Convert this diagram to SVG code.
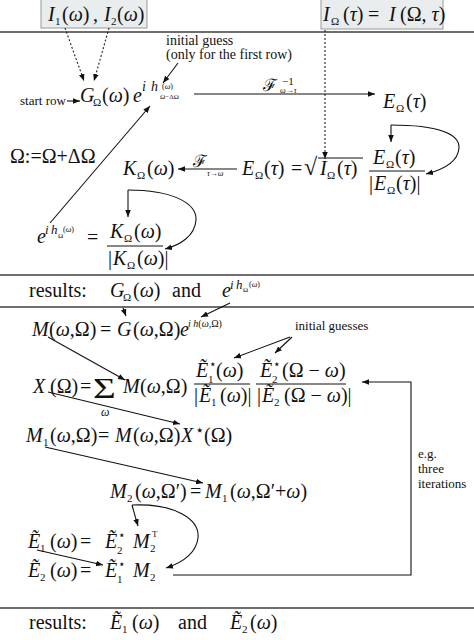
<svg xmlns="http://www.w3.org/2000/svg" width="474" height="640" viewBox="0 0 474 640">
<defs>
<marker id="ah" viewBox="0 0 10 10" refX="10" refY="5" markerWidth="7" markerHeight="7" markerUnits="userSpaceOnUse" orient="auto"><path d="M0,1 L10,5 L0,9 z" fill="#111"/></marker>
<style>
.m{font-family:"Liberation Serif","DejaVu Serif",serif;font-size:20px;fill:#111}
.i{font-style:italic}
.s{font-size:11px}
.ss{font-size:8px}
.st{font-size:12px}
.lbl{font-family:"Liberation Serif","DejaVu Serif",serif;font-size:13px;fill:#111}
.sep{stroke:#6e6e6e;stroke-width:2}
.c{stroke:#111;stroke-width:1.1;fill:none}
.d{stroke:#222;stroke-width:1.1;stroke-dasharray:2 2;fill:none}
.box{fill:#e9eded;stroke:#9a9a9a;stroke-width:1}
.bar{stroke:#111;stroke-width:1}
</style>
</defs>
<rect width="474" height="640" fill="#fff"/>

<g id="separators">
<line class="sep" x1="0" y1="32" x2="474" y2="32"/>
<line class="sep" x1="0" y1="275" x2="474" y2="275"/>
<line class="sep" x1="0" y1="307" x2="474" y2="307"/>
<line class="sep" x1="0" y1="608" x2="474" y2="608"/>
</g>

<g id="box-I1I2">
<rect class="box" x="41" y="-1" width="106" height="29"/>
<text class="m" y="21"><tspan x="48" class="i">I</tspan><tspan x="55" y="25" class="s">1</tspan><tspan x="62" y="21">(</tspan><tspan class="i">ω</tspan><tspan>)</tspan><tspan x="93">,</tspan><tspan x="104" class="i">I</tspan><tspan x="111" y="25" class="s">2</tspan><tspan x="117" y="21">(</tspan><tspan class="i">ω</tspan><tspan>)</tspan></text>
</g>

<g id="box-IOmega">
<rect class="box" x="321" y="-1" width="122" height="30"/>
<text class="m" y="21"><tspan x="323" class="i">I</tspan><tspan x="331" y="25" class="s">Ω</tspan><tspan x="343" y="21">(</tspan><tspan class="i">τ</tspan><tspan>)</tspan><tspan x="368">=</tspan><tspan x="389" class="i">I</tspan><tspan x="400">(Ω, </tspan><tspan class="i">τ</tspan><tspan>)</tspan></text>
</g>

<g id="initial-guess">
<text class="lbl" x="166" y="45" style="font-size:14px">initial guess</text>
<text class="lbl" x="166" y="59" style="font-size:14px">(only for the first row)</text>
</g>

<g id="start-row">
<text class="lbl" x="20" y="105">start row</text>
</g>

<g id="G-row">
<text class="m" y="102"><tspan x="80" class="i">G</tspan><tspan x="93" y="106" class="s">Ω</tspan><tspan x="102" y="102">(</tspan><tspan class="i">ω</tspan><tspan>)</tspan><tspan x="133" class="i">e</tspan></text>
<text class="m i" style="font-size:14px" y="91"><tspan x="142">i</tspan><tspan x="151">h</tspan></text>
<text class="m ss" x="162" y="89">(<tspan class="i">ω</tspan>)</text>
<text class="m" style="font-size:7px" x="160" y="99">Ω−ΔΩ</text>
</g>

<g id="F-inv">
<text class="m" style="font-size:17px" x="263" y="91">ℱ</text>
<text class="m" style="font-size:11px" x="282" y="85">−1</text>
<text class="m i" style="font-size:8px" x="280" y="93">ω→τ</text>
</g>

<g id="E-tau">
<text class="m" y="108"><tspan x="383" class="i">E</tspan><tspan x="396" y="112" class="s">Ω</tspan><tspan x="406" y="108">(</tspan><tspan class="i">τ</tspan><tspan>)</tspan></text>
</g>

<g id="E-update">
<text class="m" y="175"><tspan x="242" class="i">E</tspan><tspan x="255" y="179" class="s">Ω</tspan><tspan x="264" y="175">(</tspan><tspan class="i">τ</tspan><tspan>)</tspan><tspan x="291">=</tspan><tspan x="304" style="font-size:24px">√</tspan><tspan x="320" class="i">I</tspan><tspan x="327" y="179" class="s">Ω</tspan><tspan x="337" y="175">(</tspan><tspan class="i">τ</tspan><tspan>)</tspan></text>
<line class="bar" x1="318" y1="158" x2="363" y2="158"/>
<text class="m" y="164"><tspan x="373" class="i">E</tspan><tspan x="386" y="168" class="s">Ω</tspan><tspan x="395" y="164">(</tspan><tspan class="i">τ</tspan><tspan>)</tspan></text>
<line class="bar" x1="369" y1="171" x2="425" y2="171"/>
<text class="m" y="190"><tspan x="369">|</tspan><tspan x="374" class="i">E</tspan><tspan x="387" y="194" class="s">Ω</tspan><tspan x="396" y="190">(</tspan><tspan class="i">τ</tspan><tspan>)|</tspan></text>
</g>

<g id="F-fwd">
<text class="m" style="font-size:17px" x="193" y="167">ℱ</text>
<text class="m i" style="font-size:8px" x="207" y="176">τ→ω</text>
</g>

<g id="K-row">
<text class="m" y="175"><tspan x="123" class="i">K</tspan><tspan x="137" y="179" class="s">Ω</tspan><tspan x="147" y="175">(</tspan><tspan class="i">ω</tspan><tspan>)</tspan></text>
</g>

<g id="Omega-step">
<text class="m" x="10" y="163">Ω:=Ω+ΔΩ</text>
</g>

<g id="phase-row">
<text class="m i" x="37" y="243">e</text>
<text class="m i" style="font-size:13px" y="234"><tspan x="45">i</tspan><tspan x="51">h</tspan></text>
<text class="m" style="font-size:7px" x="58" y="238">Ω</text>
<text class="m ss" x="63" y="232">(<tspan class="i">ω</tspan>)</text>
<text class="m" x="87" y="244">=</text>
<text class="m" y="238"><tspan x="110" class="i">K</tspan><tspan x="124" y="242" class="s">Ω</tspan><tspan x="134" y="238">(</tspan><tspan class="i">ω</tspan><tspan>)</tspan></text>
<line class="bar" x1="107" y1="246" x2="163" y2="246"/>
<text class="m" y="265"><tspan x="108">|</tspan><tspan x="113" class="i">K</tspan><tspan x="127" y="269" class="s">Ω</tspan><tspan x="137" y="265">(</tspan><tspan class="i">ω</tspan><tspan>)|</tspan></text>
</g>

<g id="results-1">
<text class="m" x="29" y="297">results:</text>
<text class="m" y="297"><tspan x="110" class="i">G</tspan><tspan x="123" y="301" class="s">Ω</tspan><tspan x="133" y="297">(</tspan><tspan class="i">ω</tspan><tspan>)</tspan></text>
<text class="m" x="172" y="297">and</text>
<text class="m i" x="222" y="297">e</text>
<text class="m i" style="font-size:13px" y="289"><tspan x="230">i</tspan><tspan x="236">h</tspan></text>
<text class="m" style="font-size:7px" x="243" y="292">Ω</text>
<text class="m ss" x="249" y="287">(<tspan class="i">ω</tspan>)</text>
</g>

<g id="M-row">
<text class="m" y="336"><tspan x="32" class="i">M</tspan><tspan x="49">(</tspan><tspan class="i">ω</tspan><tspan>,Ω)</tspan><tspan x="100">=</tspan><tspan x="117" class="i">G</tspan><tspan x="133">(</tspan><tspan class="i">ω</tspan><tspan>,Ω)</tspan><tspan x="180" class="i">e</tspan></text>
<text class="m" style="font-size:10px" y="327"><tspan x="188" class="i">i h</tspan><tspan>(</tspan><tspan class="i">ω</tspan><tspan>,Ω)</tspan></text>
</g>

<g id="initial-guesses">
<text class="lbl" x="295" y="330">initial guesses</text>
</g>

<g id="X-row">
<text class="m" y="393"><tspan x="33" class="i">X</tspan><tspan x="50">(Ω)</tspan><tspan x="80">=</tspan></text>
<text class="m" transform="translate(93,398) scale(1.35,1)" style="font-size:29px">Σ</text>
<text class="m i" style="font-size:12px" x="101" y="416">ω</text>
<text class="m" y="393"><tspan x="123" class="i">M</tspan><tspan x="140">(</tspan><tspan class="i">ω</tspan><tspan>,Ω)</tspan></text>
<text class="m" y="377"><tspan x="196" class="i">Ẽ</tspan><tspan x="209" y="368" class="st">⋆</tspan><tspan x="208" y="383" class="s">1</tspan><tspan x="216" y="377">(</tspan><tspan class="i">ω</tspan><tspan>)</tspan></text>
<line class="bar" x1="194" y1="384" x2="250" y2="384"/>
<text class="m" y="402"><tspan x="194">|</tspan><tspan x="199" class="i">Ẽ</tspan><tspan x="211" y="406" class="s">1</tspan><tspan x="220" y="402">(</tspan><tspan class="i">ω</tspan><tspan>)|</tspan></text>
<text class="m" y="377"><tspan x="260" class="i">Ẽ</tspan><tspan x="273" y="368" class="st">⋆</tspan><tspan x="272" y="383" class="s">2</tspan><tspan x="282" y="377">(Ω − </tspan><tspan class="i">ω</tspan><tspan>)</tspan></text>
<line class="bar" x1="256" y1="384" x2="346" y2="384"/>
<text class="m" y="402"><tspan x="257">|</tspan><tspan x="262" class="i">Ẽ</tspan><tspan x="274" y="406" class="s">2</tspan><tspan x="284" y="402">(Ω − </tspan><tspan class="i">ω</tspan><tspan>)|</tspan></text>
</g>

<g id="M1-row">
<text class="m" y="442"><tspan x="26" class="i">M</tspan><tspan x="43" y="446" class="s">1</tspan><tspan x="50" y="442">(</tspan><tspan class="i">ω</tspan><tspan>,Ω)</tspan><tspan x="98">=</tspan><tspan x="115" class="i">M</tspan><tspan x="133">(</tspan><tspan class="i">ω</tspan><tspan>,Ω)</tspan><tspan x="181" class="i">X</tspan><tspan x="195" y="435" style="font-size:15px">⋆</tspan><tspan x="204" y="442">(Ω)</tspan></text>
</g>

<g id="M2-row">
<text class="m" y="498"><tspan x="110" class="i">M</tspan><tspan x="127" y="502" class="s">2</tspan><tspan x="135" y="498">(</tspan><tspan class="i">ω</tspan><tspan>,Ω′)</tspan><tspan x="190">=</tspan><tspan x="205" class="i">M</tspan><tspan x="222" y="502" class="s">1</tspan><tspan x="230" y="498">(</tspan><tspan class="i">ω</tspan><tspan>,Ω′+</tspan><tspan class="i">ω</tspan><tspan>)</tspan></text>
</g>

<g id="E1-row">
<text class="m" y="548"><tspan x="28" class="i">Ẽ</tspan><tspan x="40" y="552" class="s">1</tspan><tspan x="50" y="548">(</tspan><tspan class="i">ω</tspan><tspan>)</tspan><tspan x="80">=</tspan><tspan x="105" class="i">Ẽ</tspan><tspan x="118" y="539" class="st">⋆</tspan><tspan x="117" y="554" class="s">2</tspan><tspan x="133" y="548" class="i">M</tspan><tspan x="150" y="552" class="s">2</tspan><tspan x="152" y="537" style="font-size:9px">T</tspan></text>
</g>

<g id="E2-row">
<text class="m" y="577"><tspan x="28" class="i">Ẽ</tspan><tspan x="40" y="581" class="s">2</tspan><tspan x="50" y="577">(</tspan><tspan class="i">ω</tspan><tspan>)</tspan><tspan x="80">=</tspan><tspan x="105" class="i">Ẽ</tspan><tspan x="118" y="568" class="st">⋆</tspan><tspan x="117" y="583" class="s">1</tspan><tspan x="133" y="577" class="i">M</tspan><tspan x="150" y="581" class="s">2</tspan></text>
</g>

<g id="iterations">
<text class="lbl" x="418" y="458">e.g.</text>
<text class="lbl" x="418" y="473">three</text>
<text class="lbl" x="418" y="488">iterations</text>
</g>

<g id="results-2">
<text class="m" x="29" y="629">results:</text>
<text class="m" y="629"><tspan x="110" class="i">Ẽ</tspan><tspan x="122" y="633" class="s">1</tspan><tspan x="132" y="629">(</tspan><tspan class="i">ω</tspan><tspan>)</tspan></text>
<text class="m" x="178" y="629">and</text>
<text class="m" y="629"><tspan x="230" class="i">Ẽ</tspan><tspan x="242" y="633" class="s">2</tspan><tspan x="250" y="629">(</tspan><tspan class="i">ω</tspan><tspan>)</tspan></text>
</g>

<g id="connectors">
<line class="d" x1="65" y1="28" x2="84" y2="81" marker-end="url(#ah)"/>
<line class="d" x1="109" y1="28" x2="94" y2="81" marker-end="url(#ah)"/>
<line class="d" x1="325" y1="30" x2="325" y2="159" marker-end="url(#ah)"/>
<line class="c" x1="178" y1="63" x2="163" y2="83" marker-end="url(#ah)"/>
<line class="c" x1="67" y1="101" x2="80" y2="101" marker-end="url(#ah)"/>
<line class="c" x1="194" y1="94" x2="375" y2="94" marker-end="url(#ah)"/>
<line class="c" x1="50" y1="223" x2="150" y2="106" marker-end="url(#ah)"/>
<line class="c" x1="391" y1="125" x2="391" y2="142" marker-end="url(#ah)"/>
<path class="c" d="M391,125 C438,125 460,134 459,148 C458,162 442,170 426,174" marker-end="url(#ah)"/>
<line class="c" x1="237" y1="169" x2="178" y2="169" marker-end="url(#ah)"/>
<line class="c" x1="128" y1="190" x2="128" y2="217" marker-end="url(#ah)"/>
<path class="c" d="M128,190 C172,190 197,203 196,220 C195,236 180,245 165,249" marker-end="url(#ah)"/>
<line class="c" x1="123" y1="308" x2="126" y2="316" marker-end="url(#ah)"/>
<line class="c" x1="230" y1="303" x2="201" y2="317" marker-end="url(#ah)"/>
<line class="c" x1="48" y1="337" x2="125" y2="380" marker-end="url(#ah)"/>
<line class="c" x1="292" y1="337" x2="275" y2="353" marker-end="url(#ah)"/>
<line class="c" x1="290" y1="337" x2="234" y2="358" marker-end="url(#ah)"/>
<line class="c" x1="48" y1="392" x2="180" y2="424" marker-end="url(#ah)"/>
<line class="c" x1="45" y1="447" x2="203" y2="483" marker-end="url(#ah)"/>
<path class="c" d="M132,505 Q135,516 138,526" marker-end="url(#ah)"/>
<path class="c" d="M132,505 C176,503 200,520 198,538 C196,554 181,563 166,568" marker-end="url(#ah)"/>
<line class="c" x1="37" y1="550" x2="103" y2="565" marker-end="url(#ah)"/>
<polyline class="c" points="173,575 411,575 411,382 362,382" marker-end="url(#ah)"/>
</g>
</svg>
